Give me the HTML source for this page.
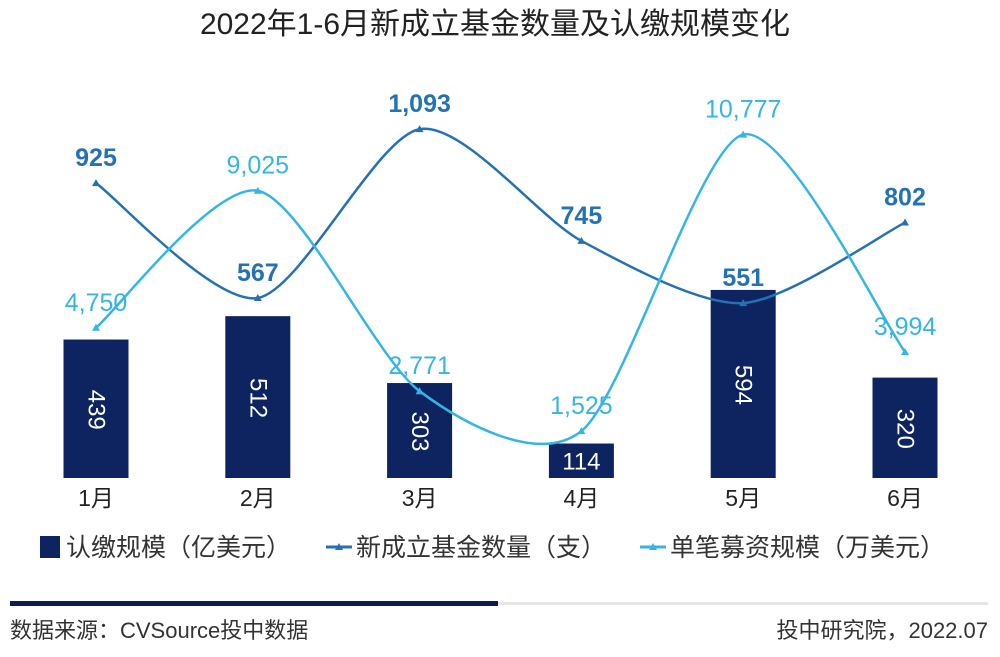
<!DOCTYPE html>
<html><head><meta charset="utf-8">
<style>
body{margin:0;background:#fff;width:1000px;height:652px;overflow:hidden;font-family:"Liberation Sans","Noto Sans CJK SC",sans-serif;}
svg text{font-family:"Liberation Sans","Noto Sans CJK SC",sans-serif;}
</style></head><body>
<svg width="1000" height="652" viewBox="0 0 1000 652">
<text x="495" y="34" text-anchor="middle" font-size="30" fill="#222">2022年1-6月新成立基金数量及认缴规模变化</text>
<g id="plot"></g>
<g>
<rect x="40" y="536" width="20" height="22" fill="#0d2461"/>
<text x="66" y="556" font-size="25" fill="#333">认缴规模（亿美元）</text>
<line x1="326" y1="547" x2="352" y2="547" stroke="#2472b3" stroke-width="3"/>
<path d="M335,550 L339,543 L343,550 Z" fill="#2472b3"/>
<text x="356" y="556" font-size="25" fill="#333">新成立基金数量（支）</text>
<line x1="640" y1="547" x2="666" y2="547" stroke="#35b5e6" stroke-width="3"/>
<path d="M649,550 L653,543 L657,550 Z" fill="#35b5e6"/>
<text x="670" y="556" font-size="25" fill="#333">单笔募资规模（万美元）</text>
</g>
<rect x="10" y="601" width="488" height="5" fill="#0d1c4e"/>
<rect x="498" y="602" width="490" height="3" fill="#e6e6e6"/>
<text x="10" y="638" font-size="22" fill="#333">数据来源：CVSource投中数据</text>
<text x="988" y="638" font-size="22" fill="#333" text-anchor="end">投中研究院，2022.07</text>
</svg>
<script>
const categories=["1月","2月","3月","4月","5月","6月"];
const subscription=[439,512,303,114,594,320];
const fundCount=[925,567,1093,745,551,802];
const singleRaise=[4750,9025,2771,1525,10777,3994];
const NS="http://www.w3.org/2000/svg";
const g=document.getElementById("plot");
const base=480;
const xAt=i=>96+i*161.8;
const yBar=v=>base-v*0.32;
const yCount=v=>base-v*0.321;
const yRaise=v=>base-v*0.03205;
function el(t,a){const e=document.createElementNS(NS,t);for(const k in a)e.setAttribute(k,a[k]);g.appendChild(e);return e;}
function fmt(v){return v.toLocaleString("en-US");}
categories.forEach((c,i)=>{
  const x=xAt(i),y=yBar(subscription[i]);
  const r=el("rect",{x:x-32.5,y:y,width:65,height:base-2-y,fill:"#0d2461"});
  
  
  const cy=(y+base)/2;
  const h=base-2-y;
  const attrs={x:x,y:cy,"text-anchor":"middle","dominant-baseline":"central","font-size":"24",fill:"#fff"};
  if(h>60) attrs.transform=`rotate(90 ${x} ${cy})`;
  const t=el("text",attrs);
  t.textContent=subscription[i];
  
  
  const l=el("text",{x:x,y:506,"text-anchor":"middle","font-size":"23",fill:"#222"});
  l.textContent=c;
  
  
});
function curve(pts){
  let d=`M${pts[0][0]},${pts[0][1]}`;
  const k=1/7.5;
  for(let i=0;i<pts.length-1;i++){
    const p0=pts[i-1]||pts[i],p1=pts[i],p2=pts[i+1],p3=pts[i+2]||p2;
    d+=` C${p1[0]+(p2[0]-p0[0])*k},${p1[1]+(p2[1]-p0[1])*k} ${p2[0]-(p3[0]-p1[0])*k},${p2[1]-(p3[1]-p1[1])*k} ${p2[0]},${p2[1]}`;
  }
  return d;
}
function series(vals,yf,color,name,bold){
  const pts=vals.map((v,i)=>[xAt(i),yf(v)]);
  const p=el("path",{d:curve(pts),fill:"none",stroke:color,"stroke-width":"2.5"});
  
  
  pts.forEach((q,i)=>{
    const m=el("path",{d:`M${q[0]-4},${q[1]+3} L${q[0]},${q[1]-4} L${q[0]+4},${q[1]+3} Z`,fill:color});
    
    
    const t=el("text",{x:q[0],y:q[1]-17,"text-anchor":"middle","font-size":"25",fill:color,"font-weight":bold?"bold":"normal"});
    t.textContent=fmt(vals[i]);
    
    
  });
}
series(fundCount,yCount,"#2472b3","fund-count",true);
series(singleRaise,yRaise,"#35b5e6","single-raise",false);
</script>
</body></html>
